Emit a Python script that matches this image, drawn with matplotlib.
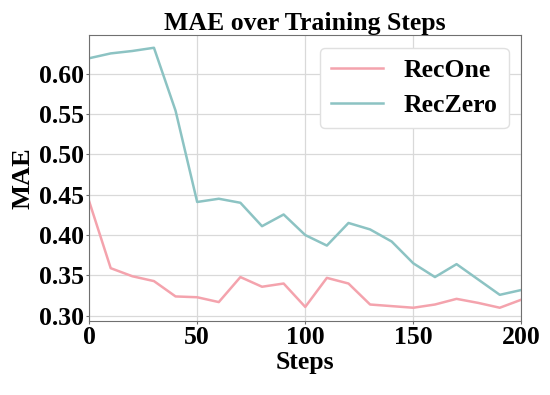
import numpy as np
import matplotlib
matplotlib.use('Agg')
import matplotlib.pyplot as plt

steps = list(range(0, 201, 10))
rec_one = [0.442, 0.359, 0.349, 0.343, 0.324, 0.323, 0.317, 0.348, 0.336, 0.340,
           0.311, 0.347, 0.340, 0.314, 0.312, 0.310, 0.314, 0.321, 0.316, 0.310, 0.320]
rec_zero = [0.619, 0.625, 0.628, 0.632, 0.554, 0.441, 0.445, 0.440, 0.411, 0.4255,
            0.400, 0.387, 0.415, 0.407, 0.392, 0.365, 0.348, 0.364, 0.345, 0.326, 0.332]

plt.rcParams['font.family'] = ['Liberation Serif', 'DejaVu Serif']
plt.rcParams['font.weight'] = 'bold'

fig, ax = plt.subplots(figsize=(5.5, 3.95), dpi=100)
fig.subplots_adjust(left=0.162, right=0.948, top=0.912, bottom=0.188)

ax.plot(steps, rec_one, color='#f4a3ad', lw=1.8, label='RecOne')
ax.plot(steps, rec_zero, color='#8cc3c3', lw=1.8, label='RecZero')

ax.set_xlim(0, 200)
ax.set_xticks([0, 50, 100, 150, 200])
ax.set_yticks([0.30, 0.35, 0.40, 0.45, 0.50, 0.55, 0.60])
ax.set_yticklabels([f'{v:.2f}' for v in ax.get_yticks()])
ax.grid(True, color='#d9d9d9', lw=0.9)
ax.set_axisbelow(True)
for s in ax.spines.values():
    s.set_color('#707070')
ax.tick_params(colors='#707070', labelcolor='black', labelsize=18.5,
               length=2.5, pad=1.5)

ax.set_title('MAE over Training Steps', fontsize=18.5, fontweight='bold', pad=3)
ax.set_xlabel('Steps', fontsize=18.5, fontweight='bold', labelpad=1)
ax.set_ylabel('MAE', fontsize=19, fontweight='bold', labelpad=3)
ax.legend(loc='upper right', fontsize=18.5, handlelength=2.0, borderpad=0.45,
          labelspacing=0.45, handletextpad=0.8, framealpha=1, edgecolor='#e0e0e0')

fig.savefig('out.png', dpi=100)
